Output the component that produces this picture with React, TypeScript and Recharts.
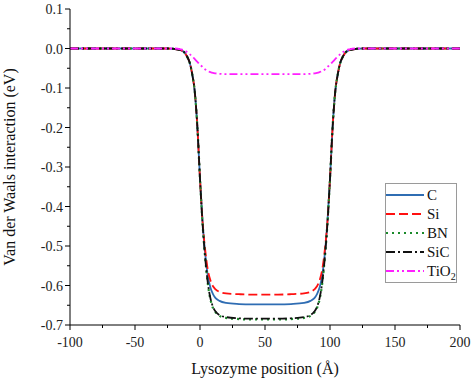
import React from "react";
import { LineChart, Line, XAxis, YAxis, Legend } from "recharts";

const positions = [-100, -50, -30, -25, -20, -15, -12, -10, -8, -6, -4, -2, 0, 2, 4, 6, 8, 10, 12, 15, 20, 30, 40, 50, 60, 70, 80, 85, 88, 90, 92, 94, 96, 98, 100, 102, 104, 106, 108, 110, 112, 115, 120, 125, 130, 150, 200];

const cVals = [0, 0, 0, 0, -0.001, -0.004, -0.01, -0.02, -0.035, -0.065, -0.11, -0.2, -0.33, -0.44, -0.52, -0.575, -0.605, -0.622, -0.632, -0.639, -0.644, -0.647, -0.648, -0.648, -0.648, -0.647, -0.644, -0.639, -0.632, -0.622, -0.605, -0.575, -0.52, -0.44, -0.33, -0.2, -0.11, -0.065, -0.035, -0.02, -0.01, -0.004, -0.001, 0, 0, 0, 0];

const siVals = [0, 0, 0, 0, -0.001, -0.004, -0.01, -0.02, -0.035, -0.065, -0.11, -0.2, -0.33, -0.44, -0.51, -0.56, -0.587, -0.602, -0.61, -0.616, -0.62, -0.622, -0.623, -0.623, -0.623, -0.622, -0.62, -0.616, -0.61, -0.602, -0.587, -0.56, -0.51, -0.44, -0.33, -0.2, -0.11, -0.065, -0.035, -0.02, -0.01, -0.004, -0.001, 0, 0, 0, 0];

const bnVals = [0, 0, 0, 0, -0.001, -0.004, -0.01, -0.02, -0.035, -0.065, -0.11, -0.2, -0.33, -0.445, -0.53, -0.595, -0.635, -0.657, -0.668, -0.677, -0.682, -0.685, -0.686, -0.686, -0.686, -0.685, -0.682, -0.677, -0.668, -0.657, -0.635, -0.595, -0.53, -0.445, -0.33, -0.2, -0.11, -0.065, -0.035, -0.02, -0.01, -0.004, -0.001, 0, 0, 0, 0];

const sicVals = [0, 0, 0, 0, -0.001, -0.004, -0.01, -0.02, -0.035, -0.065, -0.11, -0.2, -0.33, -0.445, -0.53, -0.593, -0.632, -0.654, -0.666, -0.675, -0.68, -0.683, -0.684, -0.684, -0.684, -0.683, -0.68, -0.675, -0.666, -0.654, -0.632, -0.593, -0.53, -0.445, -0.33, -0.2, -0.11, -0.065, -0.035, -0.02, -0.01, -0.004, -0.001, 0, 0, 0, 0];

const tio2Vals = [0, 0, 0, 0, 0, -0.002, -0.005, -0.009, -0.014, -0.02, -0.027, -0.034, -0.041, -0.047, -0.053, -0.057, -0.06, -0.062, -0.063, -0.064, -0.065, -0.065, -0.065, -0.065, -0.065, -0.065, -0.065, -0.064, -0.063, -0.062, -0.06, -0.057, -0.053, -0.047, -0.041, -0.034, -0.027, -0.02, -0.014, -0.009, -0.005, -0.002, 0, 0, 0, 0, 0];

const xTicks = [-100, -75, -50, -25, 0, 25, 50, 75, 100, 125, 150, 175, 200];
const xMajor = [-100, -50, 0, 50, 100, 150, 200];
const yTicks = [-0.7, -0.65, -0.6, -0.55, -0.5, -0.45, -0.4, -0.35, -0.3, -0.25, -0.2, -0.15, -0.1, -0.05, 0, 0.05, 0.1];
const yMajor = [-0.7, -0.6, -0.5, -0.4, -0.3, -0.2, -0.1, 0, 0.1];
const yMajorLabels = ["-0.7", "-0.6", "-0.5", "-0.4", "-0.3", "-0.2", "-0.1", "0.0", "0.1"];

const seriesNames = ["C", "Si", "BN", "SiC", "TiO2"];
const seriesColors = ["#2f6db3", "#ff1010", "#1a8a2a", "#111111", "#ff20ff"];
const seriesDash = ["", "9 4", "2 4", "9 3 2 3", "8 3 2 3 2 3"];

const data = positions.map((x, i) => ({
  x,
  C: cVals[i],
  Si: siVals[i],
  BN: bnVals[i],
  SiC: sicVals[i],
  TiO2: tio2Vals[i],
}));

const FONT = "'Liberation Serif', 'Times New Roman', serif";

const XTick = (props: any) => {
  const { x, y, payload } = props;
  const v = payload.value;
  const idx = xMajor.indexOf(v);
  const major = idx >= 0;
  return (
    <g>
      <line x1={x} x2={x} y1={y} y2={y + (major ? 5 : 3)} stroke="#000" strokeWidth={1} />
      {major && (
        <text x={x} y={y + 22} textAnchor="middle" fontFamily={FONT} fontSize={14} fill="#222">
          {String(v)}
        </text>
      )}
    </g>
  );
};

const YTick = (props: any) => {
  const { x, y, payload } = props;
  const v = payload.value;
  let idx = -1;
  yMajor.forEach((m, i) => {
    if (Math.abs(m - v) < 1e-6) idx = i;
  });
  const major = idx >= 0;
  return (
    <g>
      <line x1={x - (major ? 5 : 3)} x2={x} y1={y} y2={y} stroke="#000" strokeWidth={1} />
      {major && (
        <text x={x - 7} y={y + 5} textAnchor="end" fontFamily={FONT} fontSize={14} fill="#222">
          {yMajorLabels[idx]}
        </text>
      )}
    </g>
  );
};

const LegendBox = () => (
  <div
    style={{
      border: "1px solid #9a9a9a",
      background: "#fff",
      width: 72,
      height: 100,
      boxSizing: "border-box",
      paddingTop: 1,
    }}
  >
    <svg width={70} height={98}>
      {seriesNames.map((name, i) => {
        const cy = 10 + i * 19;
        return (
          <g key={name}>
            <line
              x1={0}
              x2={38}
              y1={cy}
              y2={cy}
              stroke={seriesColors[i]}
              strokeWidth={2}
              strokeDasharray={seriesDash[i] || undefined}
            />
            <text x={41} y={cy + 5} fontFamily={FONT} fontSize={15} fill="#111">
              {name === "TiO2" ? (
                <>
                  TiO
                  <tspan fontSize={10} dy={4}>
                    2
                  </tspan>
                </>
              ) : (
                name
              )}
            </text>
          </g>
        );
      })}
    </svg>
  </div>
);

export default function App() {
  return (
    <div style={{ position: "absolute", left: 0, top: 0, width: 474, height: 380, background: "#fff" }}>
      <LineChart width={474} height={380} data={data} margin={{ top: 9, right: 14, bottom: 0, left: 0 }}>
        <XAxis
          dataKey="x"
          type="number"
          domain={[-100, 200]}
          ticks={xTicks}
          interval={0}
          tick={<XTick />}
          tickLine={false}
          tickSize={0}
          tickMargin={0}
          height={55}
          axisLine={{ stroke: "#000", strokeWidth: 1 }}
          label={{
            value: "Lysozyme position (Å)",
            position: "insideBottom",
            offset: 6,
            style: { fontFamily: FONT, fontSize: 16, fill: "#111" },
          }}
        />
        <YAxis
          type="number"
          domain={[-0.7, 0.1]}
          ticks={yTicks}
          interval={0}
          tick={<YTick />}
          tickLine={false}
          tickSize={0}
          tickMargin={0}
          width={70}
          allowDataOverflow
          axisLine={{ stroke: "#000", strokeWidth: 1 }}
          label={{
            value: "Van der Waals interaction (eV)",
            angle: -90,
            position: "insideLeft",
            offset: 9,
            style: { fontFamily: FONT, fontSize: 16, fill: "#111", textAnchor: "middle" },
          }}
        />
        {seriesNames.map((name, i) => (
          <Line
            key={name}
            type="monotone"
            dataKey={name}
            stroke={seriesColors[i]}
            strokeWidth={name === "BN" ? 2.2 : 1.8}
            strokeDasharray={seriesDash[i] || undefined}
            dot={false}
            activeDot={false}
            isAnimationActive={false}
          />
        ))}
        <Legend
          layout="vertical"
          align="center"
          verticalAlign="middle"
          content={<LegendBox />}
          wrapperStyle={{ left: 385, top: 183, width: 72, height: 100 }}
        />
      </LineChart>
    </div>
  );
}
